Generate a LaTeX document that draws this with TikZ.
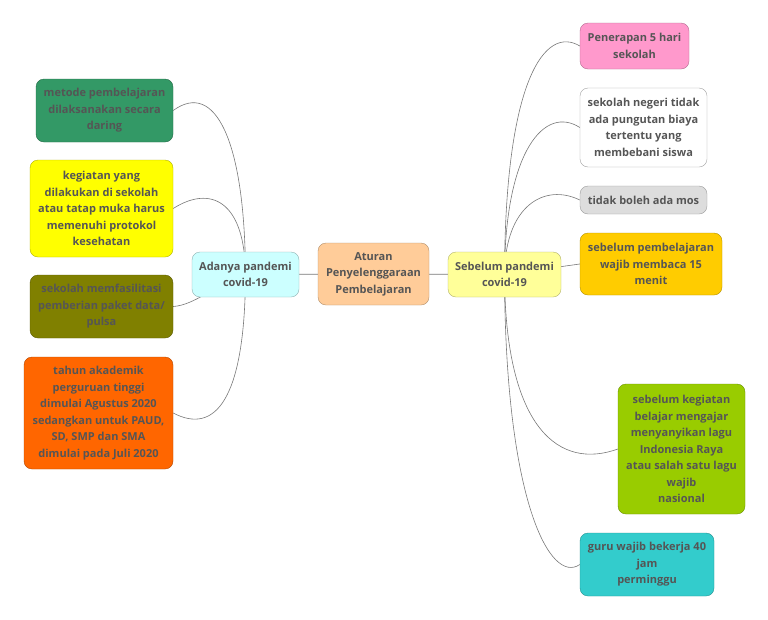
\documentclass[tikz,border=0pt]{standalone}
\usepackage{fontspec}
\setmainfont{Open Sans}
\usepackage{tikz}
\usetikzlibrary{backgrounds}
\definecolor{mmtext}{RGB}{85,85,85}
\definecolor{mmline}{RGB}{120,120,120}
\definecolor{mmpeach}{RGB}{255,204,153}
\definecolor{mmcyan}{RGB}{204,255,255}
\definecolor{mmlemon}{RGB}{255,255,153}
\definecolor{mmgreen}{RGB}{51,153,102}
\definecolor{mmyellow}{RGB}{255,255,0}
\definecolor{mmolive}{RGB}{128,128,0}
\definecolor{mmorange}{RGB}{255,102,0}
\definecolor{mmpink}{RGB}{255,153,204}
\definecolor{mmwhite}{RGB}{255,255,255}
\definecolor{mmgrey}{RGB}{221,221,221}
\definecolor{mmgold}{RGB}{255,204,0}
\definecolor{mmlime}{RGB}{153,204,0}
\definecolor{mmteal}{RGB}{51,204,204}

\begin{document}
\begin{tikzpicture}[x=1pt, y=-1pt,
  mmbox/.style={draw=#1!70!black, fill=#1, rounded corners=8pt, thin,
    font=\fontsize{11}{16.5}\selectfont\bfseries, text=mmtext,
    align=center, inner sep=2pt},
  link/.style={draw=mmline, semithick}]
\useasboundingbox (0,0) rectangle (768,619);
% Nodes
\node[mmbox=mmpeach, minimum width=111pt, minimum height=62pt] (root) at (373.5,274) {Aturan\\Penyelenggaraan\\Pembelajaran};
\node[mmbox=mmcyan, minimum width=107pt, minimum height=45pt] (adanya) at (245.5,274.5) {Adanya pandemi\\covid-19};
\node[mmbox=mmlemon, minimum width=113pt, minimum height=45pt] (sebelum) at (504.5,274.5) {Sebelum pandemi\\covid-19};
% left side
\node[mmbox=mmgreen, minimum width=137pt, minimum height=63pt] (l1) at (104.5,110.5) {metode pembelajaran\\dilaksanakan secara\\daring};
\node[mmbox=mmyellow, minimum width=143pt, minimum height=97pt] (l2) at (101.5,208.5) {kegiatan yang\\dilakukan di sekolah\\atau tatap muka harus\\memenuhi protokol\\kesehatan};
\node[mmbox=mmolive, minimum width=143pt, minimum height=63pt] (l3) at (101.5,306.5) {sekolah memfasilitasi\\pemberian paket data/\\pulsa};
\node[mmbox=mmorange, minimum width=149pt, minimum height=112pt] (l4) at (98.5,413) {tahun akademik\\perguruan tinggi\\dimulai Agustus 2020\\sedangkan untuk PAUD,\\SD, SMP dan SMA\\dimulai pada Juli 2020};
% right side
\node[mmbox=mmpink, minimum width=109pt, minimum height=46pt] (r1) at (634.5,46) {Penerapan 5 hari\\sekolah};
\node[mmbox=mmwhite, draw=mmline!70, minimum width=127pt, minimum height=79pt] (r2) at (643.5,127.5) {sekolah negeri tidak\\ada pungutan biaya\\tertentu yang\\membebani siswa};
\node[mmbox=mmgrey, minimum width=127pt, minimum height=28pt] (r3) at (643.5,200) {tidak boleh ada mos};
\node[mmbox=mmgold, minimum width=142pt, minimum height=62pt] (r4) at (651,264) {sebelum pembelajaran\\wajib membaca 15\\menit};
\node[mmbox=mmlime, minimum width=127pt, minimum height=130pt] (r5) at (681.5,449) {sebelum kegiatan\\belajar mengajar\\menyanyikan lagu\\Indonesia Raya\\atau salah satu lagu\\wajib\\nasional};
\node[mmbox=mmteal, minimum width=134pt, minimum height=63pt] (r6) at (647,564.5) {guru wajib bekerja 40\\jam\\perminggu};
% Connectors
\begin{scope}[on background layer]
\draw[link] (root) -- (adanya);
\draw[link] (root) -- (sebelum);
\draw[link] (l1.east) .. controls (215,80) and (245,140) .. (adanya.center);
\draw[link] (l2.east) .. controls (210,185) and (245,200) .. (adanya.center);
\draw[link] (l3.east) .. controls (195,305) and (215,285) .. (adanya.center);
\draw[link] (l4.east) .. controls (215,435) and (245,400) .. (adanya.center);
\draw[link] (r1.west) .. controls (545,25) and (505,80) .. (sebelum.center);
\draw[link] (r2.west) .. controls (545,105) and (505,150) .. (sebelum.center);
\draw[link] (r3.west) .. controls (545,183) and (505,205) .. (sebelum.center);
\draw[link] (r4.west) -- (sebelum.center);
\draw[link] (r5.west) .. controls (560,470) and (505,430) .. (sebelum.center);
\draw[link] (r6.west) .. controls (550,585) and (505,500) .. (sebelum.center);
\end{scope}
\end{tikzpicture}
\end{document}
